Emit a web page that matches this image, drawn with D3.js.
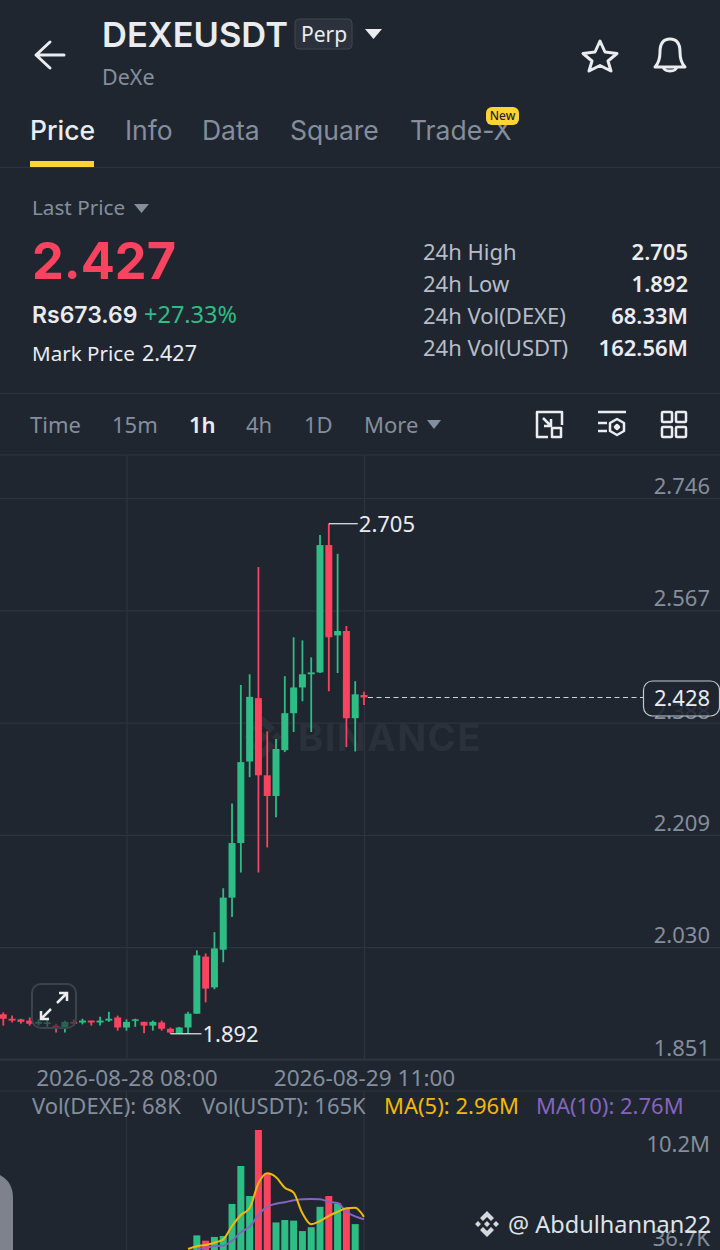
<!DOCTYPE html>
<html>
<head>
<meta charset="utf-8">
<title>DEXEUSDT</title>
<script src="https://cdn.jsdelivr.net/npm/d3@7"></script>
<style>
	html, body { margin: 0; padding: 0; background: #1f2630; overflow: hidden; }
	svg { display: block; }
	text { font-family: "Noto Sans", sans-serif; }
	.head { font-family: Inter, sans-serif; }
</style>
</head>
<body>
<div id="chart"></div>
<script>
// candles, one per hour, [open, high, low, close]
var candles = [
	[1.923, 1.926, 1.905, 1.916], [1.916, 1.921, 1.910, 1.913], [1.915, 1.916, 1.908, 1.911], [1.913, 1.918, 1.905, 1.908],
	[1.908, 1.915, 1.905, 1.911], [1.908, 1.915, 1.903, 1.910], [1.905, 1.908, 1.894, 1.900], [1.902, 1.913, 1.894, 1.911],
	[1.911, 1.915, 1.905, 1.908], [1.910, 1.916, 1.907, 1.913], [1.913, 1.913, 1.905, 1.910], [1.910, 1.919, 1.905, 1.913],
	[1.913, 1.927, 1.911, 1.916], [1.918, 1.921, 1.897, 1.902], [1.902, 1.915, 1.897, 1.911], [1.913, 1.916, 1.903, 1.915],
	[1.911, 1.911, 1.893, 1.905], [1.905, 1.913, 1.897, 1.911], [1.910, 1.913, 1.897, 1.900], [1.900, 1.902, 1.892, 1.894],
	[1.893, 1.903, 1.892, 1.902], [1.902, 1.927, 1.892, 1.924], [1.924, 2.025, 1.924, 2.017], [2.015, 2.020, 1.942, 1.964],
	[1.966, 2.054, 1.963, 2.028], [2.026, 2.124, 2.006, 2.109], [2.109, 2.259, 2.078, 2.196], [2.196, 2.448, 2.149, 2.325],
	[2.326, 2.465, 2.301, 2.429], [2.427, 2.636, 2.149, 2.304], [2.304, 2.374, 2.189, 2.271], [2.271, 2.362, 2.237, 2.346],
	[2.344, 2.462, 2.341, 2.403], [2.403, 2.524, 2.373, 2.444], [2.444, 2.519, 2.422, 2.465], [2.465, 2.492, 2.373, 2.468],
	[2.468, 2.687, 2.467, 2.671], [2.671, 2.705, 2.438, 2.524], [2.527, 2.657, 2.467, 2.534], [2.534, 2.542, 2.349, 2.395],
	[2.395, 2.454, 2.342, 2.433], [2.432, 2.437, 2.416, 2.428]
];
// volume in millions, same order as candles
var volumes = [
	0.03, 0.02, 0.02, 0.02, 0.02, 0.02, 0.03, 0.03, 0.02, 0.02, 0.02, 0.03, 0.04, 0.05, 0.04, 0.03,
	0.04, 0.03, 0.03, 0.05, 0.05, 0.18, 1.42, 0.98, 1.29, 1.37, 4.04, 7.2, 4.7, 10.2, 6.6, 2.5,
	2.7, 2.65, 1.78, 2.1, 3.8, 4.7, 4.1, 3.7, 2.36, 0.068
];
// moving averages, starting at candle 21 and 22
var ma5Start = 21;
var ma5 = [0.29, 0.51, 0.62, 0.81, 1.09, 2.20, 3.12, 3.70, 5.76, 6.59, 6.26, 5.39, 4.98, 3.26, 2.34, 2.62, 3.04, 3.39, 3.68, 3.73, 2.96];
var ma10Start = 22;
var ma10 = [0.29, 0.40, 0.51, 0.56, 0.98, 1.68, 2.15, 3.12, 3.81, 4.06, 4.18, 4.34, 4.43, 4.45, 4.43, 4.23, 4.12, 3.39, 3.01, 2.76];

var priceTicks = [2.746, 2.567, 2.388, 2.209, 2.030, 1.851];
var volumeTicks = [10.2, 0.0367];
var timeTicks = [new Date(2026, 7, 28, 8), new Date(2026, 7, 29, 11)];
var firstCandle = new Date(2026, 7, 27, 18);
var lastPrice = 2.428;

var tabs = ["Price", "Info", "Data", "Square", "Trade-X"];
var tabX = [30, 125, 202, 290, 410];
var intervals = ["Time", "15m", "1h", "4h", "1D", "More"];
var intervalX = [30, 112, 189, 246, 304, 364];
var statLabels = ["24h High", "24h Low", "24h Vol(DEXE)", "24h Vol(USDT)"];
var statValues = ["2.705", "1.892", "68.33M", "162.56M"];

var bg = "#1f2630", grid = "#2d343e", green = "#2ebd85", red = "#f9435f", grey = "#848e9c", white = "#eaecef";

var svg = d3.select("#chart").append("svg").attr("width", 720).attr("height", 1250);

function hour(i) { return d3.timeHour.offset(firstCandle, i); }

var x = d3.scaleTime().domain([firstCandle, hour(41)]).range([3.3, 364]);
var y = d3.scaleLinear().domain([1.851, 2.746]).range([1059.5, 498]);
var yVol = d3.scaleLinear().domain([0.0367, 10.2]).range([1252, 1130]);

function label(t, px, py, size, fill, anchor, weight, cls) {
	return svg.append("text").attr("x", px).attr("y", py).attr("font-size", size).attr("fill", fill)
		.attr("text-anchor", anchor || "start").attr("font-weight", weight || 400)
		.attr("class", cls || null).text(t);
}

function rule(yy, w) {
	svg.append("line").attr("x1", 0).attr("x2", 720).attr("y1", yy).attr("y2", yy)
		.attr("stroke", grid).attr("stroke-width", w || 1.2);
}

// header
svg.append("path").attr("d", "M64 55H37M50 42L36 55L50 68").attr("fill", "none").attr("stroke", white).attr("stroke-width", 3).attr("stroke-linecap", "round").attr("stroke-linejoin", "round");
label("DEXEUSDT", 102, 47, 34.5, white, "start", 600, "head");
svg.append("rect").attr("x", 295).attr("y", 19).attr("width", 57).attr("height", 30).attr("rx", 4).attr("fill", "#2b323d").attr("stroke", "#3f4651");
label("Perp", 301, 42, 21, white, "start", 400);
svg.append("path").attr("d", "M365 29H382L373.500 39Z").attr("fill", white);
label("DeXe", 102, 85, 21.5, grey);
svg.append("path").attr("d", "M600 41L605 52L617 53.500L608 61L611 71L600 65.500L589 71L592 61L583 53.500L595 52Z").attr("fill", "none").attr("stroke", white).attr("stroke-width", 3).attr("stroke-linejoin", "round");
svg.append("path").attr("d", "M655 67Q660 62 660 52Q660 39 670 39Q680 39 680 52Q680 62 685 67Z M663 67Q664 71 670 71Q676 71 677 67").attr("fill", "none").attr("stroke", white).attr("stroke-width", 3).attr("stroke-linejoin", "round");

tabs.forEach(function (t, i) {
	label(t, tabX[i], 140, 26.5, i == 0 ? white : grey, "start", i == 0 ? 500 : 400, "head");
});
svg.append("rect").attr("x", 486).attr("y", 107).attr("width", 33).attr("height", 18).attr("rx", 6).attr("fill", "#fcd535");
label("New", 502.500, 120, 12, "#1f2630", "middle", 500);
svg.append("rect").attr("x", 30).attr("y", 161).attr("width", 64).attr("height", 6).attr("fill", "#fcd535");
rule(167.500);

// price block
label("Last Price", 32, 215, 20.7, grey);
svg.append("path").attr("d", "M134 204H149L141.500 213Z").attr("fill", grey);
label("2.427", 32, 279, 50.5, red, "start", 700, "head");
label("Rs673.69", 32, 323, 23, white, "start", 600, "head");
label("+27.33%", 144, 323, 23.5, green);
label("Mark Price", 32, 361, 20.6, white);
label("2.427", 142, 361, 21.5, white);
statLabels.forEach(function (t, i) {
	label(t, 423, 260 + i * 32, 22, "#b7bdc6");
	label(statValues[i], 688, 260 + i * 32, 22, white, "end", 600);
});
rule(393.500);

// interval row
intervals.forEach(function (t, i) {
	label(t, intervalX[i], 433, 22, i == 2 ? white : grey, "start", i == 2 ? 600 : 400);
});
svg.append("path").attr("d", "M427 420H441L434 429Z").attr("fill", grey);
var icons = svg.append("g").attr("fill", "none").attr("stroke", white).attr("stroke-width", 2.500).attr("stroke-linejoin", "round");
icons.append("path").attr("d", "M548 437H537V412H562V425");
icons.append("path").attr("d", "M543 418L551 426M551 419V426H544");
icons.append("rect").attr("x", 552).attr("y", 428).attr("width", 9).attr("height", 9);
icons.append("path").attr("d", "M598 412H626M598 423H607M598 431H607M617 419L624 423V431L617 435L610 431V423Z");
icons.append("path").attr("d", "M617 425L619 427L617 429L615 427Z").attr("fill", white);
[662, 676].forEach(function (ix) {
	[412, 427].forEach(function (iy) {
		icons.append("rect").attr("x", ix).attr("y", iy).attr("width", 10).attr("height", 10).attr("rx", 1);
	});
});
rule(455);

// price grid and labels
var priceAxis = d3.axisLeft(y).tickValues(priceTicks).tickFormat(d3.format(".3f")).tickSize(720);
var priceG = svg.append("g").attr("transform", "translate(720,0)").call(priceAxis);
priceG.select(".domain").remove();
priceG.selectAll("line").attr("stroke", grid).attr("stroke-width", 1.2);
priceG.selectAll("text").attr("x", -10).attr("dy", -4.500).attr("font-size", 22).attr("font-family", null).attr("fill", grey).attr("text-anchor", "end");

// hour grid
var timeAxis = d3.axisBottom(x).tickValues(timeTicks).tickFormat(d3.timeFormat("%Y-%m-%d %H:%M")).tickSize(604);
var timeG = svg.append("g").attr("transform", "translate(0,455)").call(timeAxis);
timeG.select(".domain").remove();
timeG.selectAll("line").attr("stroke", grid).attr("stroke-width", 1.2);
timeG.selectAll("text").attr("y", 0).attr("dy", 0).attr("transform", "translate(0,630.500)")
	.attr("font-size", 22.6).attr("fill", grey).attr("text-anchor", "middle");
rule(1059.500, 2);
rule(1091);

var volGrid = svg.append("g");
volGrid.selectAll("line").data(timeTicks).enter().append("line")
	.attr("x1", d => x(d)).attr("x2", d => x(d)).attr("y1", 1091).attr("y2", 1250)
	.attr("stroke", grid).attr("stroke-width", 1.2);

// watermark
var mark = svg.append("g").attr("fill", "#2a313b");
mark.append("path").attr("d", "M263 716L275 728L270 733L263 726L256 733L251 728Z M263 758L275 746L270 741L263 748L256 741L251 746Z M263 732L268 737L263 742L258 737Z M244 737L249 732L254 737L249 742Z M272 737L277 732L282 737L277 742Z");
mark.append("text").attr("x", 298).attr("y", 751).attr("font-size", 38).attr("font-weight", 700)
	.attr("class", "head").attr("letter-spacing", 1.5).text("BINANCE");

// candles
var candleG = svg.selectAll(".candle").data(candles).enter().append("g").attr("class", "candle")
	.attr("fill", d => d[3] >= d[0] ? green : red).attr("stroke", d => d[3] >= d[0] ? green : red);
candleG.append("line")
	.attr("x1", (d, i) => x(hour(i))).attr("x2", (d, i) => x(hour(i)))
	.attr("y1", d => y(d[1])).attr("y2", d => y(d[2])).attr("stroke-width", 1.8);
candleG.append("rect")
	.attr("x", (d, i) => x(hour(i)) - 3.500).attr("width", 7)
	.attr("y", d => y(Math.max(d[0], d[3])))
	.attr("height", d => Math.max(1.5, Math.abs(y(d[0]) - y(d[3])))).attr("stroke", "none");

// high and low markers
var hiIndex = d3.maxIndex(candles, d => d[1]);
var loIndex = d3.minIndex(candles, d => d[2]);
svg.append("line").attr("x1", x(hour(hiIndex))).attr("x2", x(hour(hiIndex)) + 29)
	.attr("y1", y(candles[hiIndex][1])).attr("y2", y(candles[hiIndex][1])).attr("stroke", white).attr("stroke-width", 1.2);
label(d3.format(".3f")(candles[hiIndex][1]), x(hour(hiIndex)) + 30, y(candles[hiIndex][1]) + 8, 22, white);
svg.append("line").attr("x1", x(hour(loIndex))).attr("x2", x(hour(loIndex)) + 31)
	.attr("y1", y(candles[loIndex][2])).attr("y2", y(candles[loIndex][2])).attr("stroke", white).attr("stroke-width", 1.2);
label(d3.format(".3f")(candles[loIndex][2]), x(hour(loIndex)) + 32, y(candles[loIndex][2]) + 8, 22, white);

// last price line and tag
svg.append("line").attr("x1", x(hour(41)) + 4).attr("x2", 643).attr("y1", y(lastPrice)).attr("y2", y(lastPrice))
	.attr("stroke", "#cfd3d8").attr("stroke-width", 1.2).attr("stroke-dasharray", "5 3.500");
svg.append("rect").attr("x", 643.500).attr("y", y(lastPrice) - 16.500).attr("width", 76).attr("height", 35).attr("rx", 9)
	.attr("fill", "#1f2630").attr("fill-opacity", 0.85).attr("stroke", "#c4c8ce").attr("stroke-width", 1.2);
label(d3.format(".3f")(lastPrice), 682, y(lastPrice) + 8.500, 22, white, "middle");

// expand button
svg.append("rect").attr("x", 32).attr("y", 984).attr("width", 44).attr("height", 44).attr("rx", 9)
	.attr("fill", bg).attr("fill-opacity", 0.6).attr("stroke", "#3c434d").attr("stroke-width", 2);
svg.append("path").attr("d", "M57 1003L67 993M59 993H67V1001M51 1009L41 1019M41 1011V1019H49").attr("fill", "none").attr("stroke", white).attr("stroke-width", 2.500);

// volume panel
label("Vol(DEXE): 68K", 32, 1114, 22, grey);
label("Vol(USDT): 165K", 202, 1114, 22, grey);
label("MA(5): 2.96M", 384, 1114, 22, "#f0b90b");
label("MA(10): 2.76M", 536, 1114, 22, "#8465bd");

var volAxis = d3.axisLeft(yVol).tickValues(volumeTicks).tickFormat(d => d >= 1 ? d + "M" : (d * 1000) + "K").tickSize(0);
var volG = svg.append("g").attr("transform", "translate(710,0)").call(volAxis);
volG.select(".domain").remove();
volG.selectAll("text").attr("x", 0).attr("font-size", 22).attr("fill", grey).attr("text-anchor", "end")
	.attr("dy", d => d >= 1 ? 21 : -7);

svg.selectAll(".vol").data(volumes).enter().append("rect").attr("class", "vol")
	.attr("x", (d, i) => x(hour(i)) - 3.500).attr("width", 7)
	.attr("y", d => yVol(d)).attr("height", d => Math.max(0, yVol(0.0367) - yVol(d)))
	.attr("fill", (d, i) => candles[i][3] >= candles[i][0] ? green : red);

var maLine = d3.line().x(d => x(hour(d.i))).y(d => yVol(d.v)).curve(d3.curveMonotoneX);
svg.append("path").attr("d", maLine(ma10.map((v, i) => ({i: i + ma10Start, v: v}))))
	.attr("fill", "none").attr("stroke", "#8465bd").attr("stroke-width", 2);
svg.append("path").attr("d", maLine(ma5.map((v, i) => ({i: i + ma5Start, v: v}))))
	.attr("fill", "none").attr("stroke", "#f0b90b").attr("stroke-width", 2);

// floating button at the edge
svg.append("path").attr("d", "M0 1175Q13 1182 13 1198V1250H0Z").attr("fill", "#7d828c");

// account tag
var badge = svg.append("g").attr("fill", "#d5d8dc");
badge.append("path").attr("d", "M487 1211L494 1218L491 1221L487 1217L483 1221L480 1218Z M487 1237L494 1230L491 1227L487 1231L483 1227L480 1230Z M487 1221L490 1224L487 1227L484 1224Z M475 1224L478 1221L481 1224L478 1227Z M493 1224L496 1221L499 1224L496 1227Z");
label("@ Abdulhannan22", 508, 1233, 23.5, "#dfe2e6");
</script>
</body>
</html>
